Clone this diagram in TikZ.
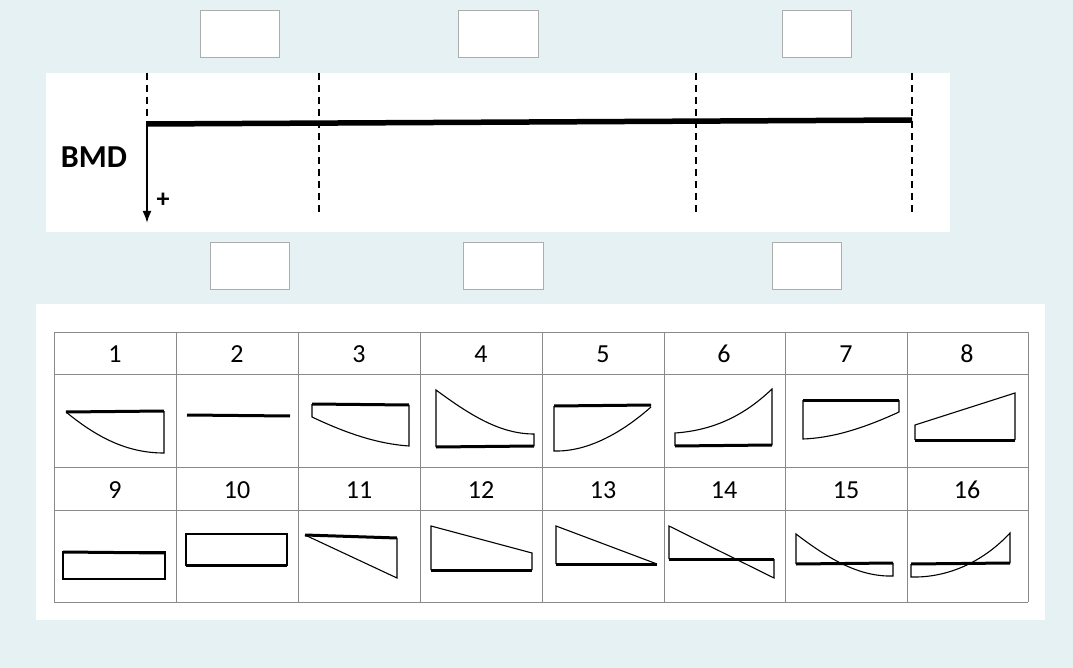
\documentclass[tikz,border=0pt]{standalone}
\usepackage{fontspec}
\setmainfont{Carlito}
\usetikzlibrary{arrows.meta}
\definecolor{bgc}{HTML}{E6F1F4}
\definecolor{gridc}{HTML}{8A8A8A}
\begin{document}
\begin{tikzpicture}[x=1pt,y=-1pt,
  blank/.style={draw=gridc!70,fill=white,line width=0.8pt},
  thick/.style={line width=3pt},
  thin/.style={line width=1.1pt},
  hdr/.style={font=\fontsize{26}{28}\selectfont}]
\fill[bgc] (0,0) rectangle (1073,668);
\useasboundingbox (0,0) rectangle (1073,668);
% boxes
\foreach \a/\b/\c/\d/\n in {200/10/279/57/t1,458/10/538/57/t2,782/10/851/57/t3,210/242/289/289/b1,463/242/543/289/b2,772/242/841/289/b3}
  \draw[blank] (\a,\b) rectangle (\c,\d);
% BMD panel
\fill[white] (46,73) rectangle (950,232);
\foreach \x/\y in {147/123,319/215,696/215,912/215}
  \draw[line width=1.6pt,dash pattern=on 7pt off 5pt] (\x,73) -- (\x,\y);
\coordinate (b0) at (147,124); \coordinate (b1) at (912,120);
\draw[line width=5.5pt] (b0) -- (b1);
\coordinate (ar) at (147,223);
\draw[line width=2pt,-{Latex[length=12pt,width=9pt]}] (147,122) -- (ar);
\node[font=\bfseries\fontsize{32}{34}\selectfont] (bmd) at (94,157) {BMD};
\node[font=\bfseries\fontsize{26}{28}\selectfont] (plus) at (163,200) {+};
% table
\fill[white] (36,304) rectangle (1045,620);
\foreach \x in {54,176,298,420,542,664,785,907,1028} \draw[gridc,line width=1pt] (\x,332) -- (\x,602);
\foreach \y in {332,374,467,510,602} \draw[gridc,line width=1pt] (54,\y) -- (1028,\y);
\foreach \i/\x in {1/115,2/237,3/359,4/481,5/603,6/724,7/846,8/967}
  \node[hdr] at (\x,354) {\i};
\foreach \i/\x in {9/115,10/237,11/359,12/481,13/603,14/724,15/846,16/967}
  \node[hdr] at (\x,490) {\i};
% row 1
\draw[thick] (66,412)--(164,411);
\draw[thin] (66,412) .. controls (100,440) and (130,453) .. (164,453) -- (164,411);
\draw[thick] (187,415)--(290,416);
\draw[thick] (312,404)--(409,405);
\draw[thin] (312,404)--(312,417) .. controls (350,435) and (380,444) .. (409,446) -- (409,405);
\draw[thin] (436,447)--(436,390) .. controls (470,415) and (500,434) .. (534,434) -- (534,446);
\draw[thick] (436,447)--(534,446);
\draw[thick] (554,406)--(651,405);
\draw[thin] (554,406)--(554,451) .. controls (590,452) and (625,430) .. (651,407);
\draw[thin] (675,446)--(675,433) .. controls (720,430) and (750,410) .. (772,389) -- (772,445);
\draw[thick] (675,446)--(772,445);
\draw[thick] (803,400)--(899,400);
\draw[thin] (899,400)--(899,412) .. controls (860,430) and (830,438) .. (803,439) -- (803,400);
\draw[thin] (915,440)--(915,425)--(1015,393)--(1015,440);
\draw[thick] (915,440)--(1015,440);
% row 2
\draw[thin] (63,552) rectangle (165,579);
\draw[thick] (63,552)--(165,553);
\draw[thin] (186,534) rectangle (287,565);
\draw[thick] (186,565)--(287,565);
\draw[thin] (305,535)--(397,578)--(397,538);
\draw[thick] (305,535)--(397,538);
\draw[thin] (431,570)--(431,526)--(532,553)--(532,570);
\draw[thick] (431,570)--(532,570);
\draw[thin] (556,564)--(556,526)--(657,564);
\draw[thick] (556,564)--(657,564);
\draw[thin] (669,559)--(669,526)--(774,578)--(774,559);
\draw[thick] (669,559)--(774,559);
\draw[thin] (796,564)--(796,534) .. controls (830,560) and (860,577) .. (893,576) -- (893,563);
\draw[thick] (796,564)--(893,563);
\draw[thin] (911,564)--(911,577) .. controls (950,578) and (985,560) .. (1010,533) -- (1010,563);
\draw[thick] (911,564)--(1010,563);
\end{tikzpicture}
\end{document}
